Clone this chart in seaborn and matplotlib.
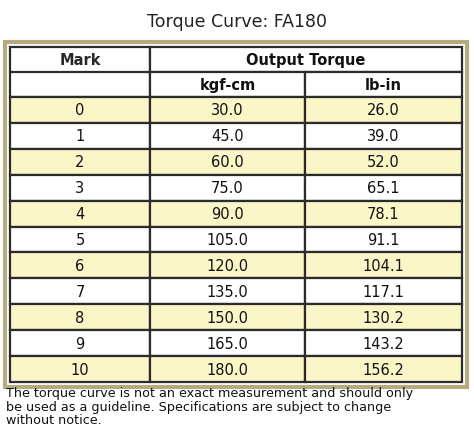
import seaborn as sns
import matplotlib.pyplot as plt
from matplotlib.patches import Rectangle

sns.set_style('white')
plt.rcParams['font.family'] = ['Verdana', 'DejaVu Sans']

title = 'Torque Curve: FA180'
marks = ['0', '1', '2', '3', '4', '5', '6', '7', '8', '9', '10']
kgf_cm = ['30.0', '45.0', '60.0', '75.0', '90.0', '105.0', '120.0', '135.0', '150.0', '165.0', '180.0']
lb_in = ['26.0', '39.0', '52.0', '65.1', '78.1', '91.1', '104.1', '117.1', '130.2', '143.2', '156.2']
note = ('The torque curve is not an exact measurement and should only\n'
        'be used as a guideline. Specifications are subject to change\n'
        'without notice.')

fig = plt.figure(figsize=(4.74, 4.45), dpi=100)
ax = fig.add_axes([0, 0, 1, 1])
ax.set_xlim(0, 474)
ax.set_ylim(445, 0)
ax.axis('off')

x0, x1, x2, x3 = 10, 150, 305, 462
top, hh = 47, 25
rh = (382 - (top + 2 * hh)) / len(marks)
yellow, line = '#fbf6c8', '#2b2b2b'

ax.add_patch(Rectangle((5, 42), 462, 345, fc='none', ec='#b5aa80', lw=3))
ax.text(237, 22, title, ha='center', va='center', fontsize=12.5, color='#222')

def cell(x, y, w, h, txt, fc='white', bold=False):
    ax.add_patch(Rectangle((x, y), w, h, fc=fc, ec=line, lw=1.6))
    ax.text(x + w / 2, y + h / 2 + 1, txt, ha='center', va='center', fontsize=10.5,
            fontweight='bold' if bold else 'normal', color='#111')

cell(x0, top, x1 - x0, 2 * hh, '')
ax.text((x0 + x1) / 2, top + hh / 2 + 1, 'Mark', ha='center', va='center', fontsize=10.5, fontweight='bold')
ax.plot([x0, x1], [top + hh, top + hh], color=line, lw=1.6)
cell(x1, top, x3 - x1, hh, 'Output Torque', bold=True)
cell(x1, top + hh, x2 - x1, hh, 'kgf-cm', bold=True)
cell(x2, top + hh, x3 - x2, hh, 'lb-in', bold=True)

for i, (m, k, l) in enumerate(zip(marks, kgf_cm, lb_in)):
    y = top + 2 * hh + i * rh
    fc = yellow if i % 2 == 0 else 'white'
    cell(x0, y, x1 - x0, rh, m, fc)
    cell(x1, y, x2 - x1, rh, k, fc)
    cell(x2, y, x3 - x2, rh, l, fc)

ax.text(6, 387, note, ha='left', va='top', fontsize=9.2, color='#111', linespacing=1.05)

fig.savefig('out.png', dpi=100)
